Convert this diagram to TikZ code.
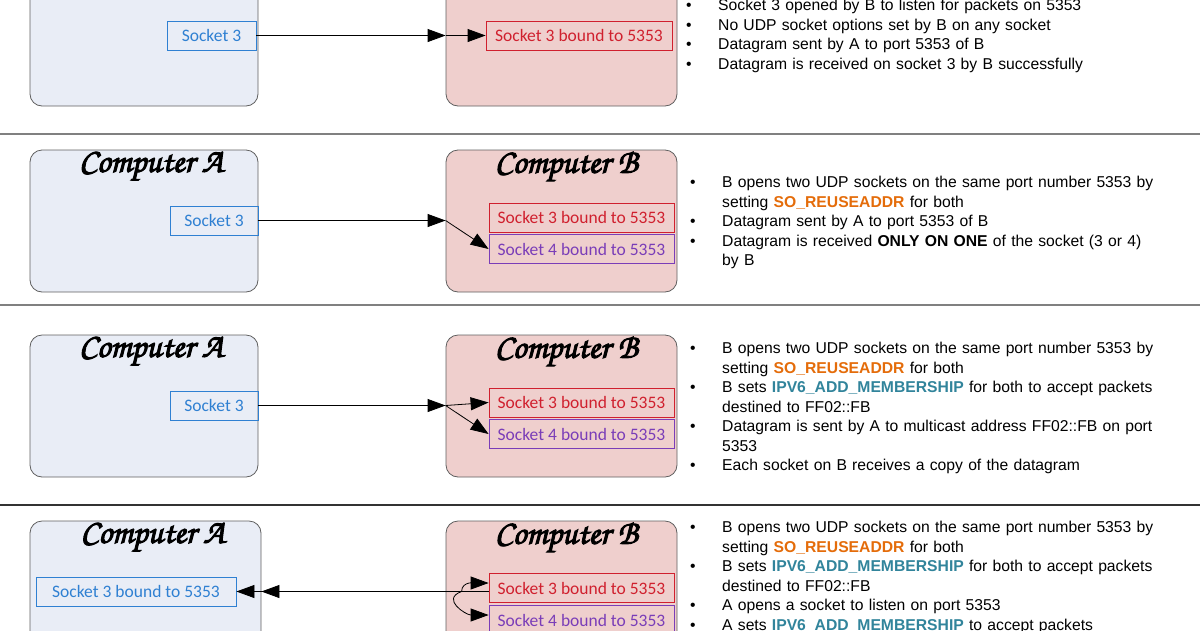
\documentclass[tikz,border=0pt]{standalone}
\usepackage{fontspec}
\setmainfont{Liberation Sans}
\newfontfamily\sockfont{Carlito}
\newfontfamily\handfont{TeX Gyre Chorus}[FakeBold=3]
\usetikzlibrary{positioning, arrows.meta, calc}
\definecolor{pcA}{HTML}{E9EDF6}
\definecolor{pcB}{HTML}{EFCFCD}
\definecolor{frame}{HTML}{5F5F5F}
\definecolor{sockblue}{HTML}{2F80D2}
\definecolor{sockred}{HTML}{D0202E}
\definecolor{sockpurple}{HTML}{7A3DB8}
\definecolor{optorange}{HTML}{E46C0A}
\definecolor{optteal}{HTML}{31849B}
\setlength{\parskip}{0pt}
\newcommand{\Opt}[2]{\textcolor{#1}{\textbf{#2}}}
\newcommand{\Item}[1]{\par\hangindent=32pt\hangafter=0\noindent\llap{\makebox[32pt][l]{\textbullet}}\strut#1\par}
\tikzset{
    computer/.style={draw=frame, line width=0.8pt, rounded corners=12pt, minimum height=142pt, inner sep=0pt},
    hostA/.style={computer, fill=pcA, minimum width=228pt},
    hostB/.style={computer, fill=pcB, minimum width=231pt},
    title/.style={inner sep=0pt, font=\handfont\fontsize{34}{36}\selectfont},
    sock/.style={draw, line width=0.8pt, inner sep=0pt, minimum height=29pt, font=\sockfont\fontsize{17.5}{20}\selectfont},
    sockA/.style={sock, draw=sockblue, text=sockblue},
    sockR/.style={sock, draw=sockred, text=sockred, minimum width=185pt},
    sockP/.style={sock, draw=sockpurple, text=sockpurple, minimum width=185pt},
    msg/.style={-{Triangle[length=18pt, width=13pt]}, line width=0.8pt},
    notes/.style={anchor=north west, inner sep=0pt, text width=500pt, align=left, font=\fontsize{15.7}{19.5}\selectfont},
    sep/.style={line width=2pt, draw=gray},
}
\begin{document}
\begin{tikzpicture}[x=1pt, y=-1pt]
    \clip (0,0) rectangle (1200,630);

    % separators
    \draw[sep] (0,134) -- (1200,134);
    \draw[sep] (0,305) -- (1200,305);
    \draw[line width=1.4pt, draw=black!80] (0,505) -- (1200,505);

    % unicast, one socket
    \node[hostA] (ca1) at (144,35) {};
    \node[hostB] (cb1) at (561.5,35) {};
    \node[sockA, minimum width=89pt] (sa1) at (211.5,35.5) {Socket 3};
    \node[sockR, minimum width=186pt] (sb1) at (579,35.5) {Socket 3 bound to 5353};
    \coordinate (j1) at (cb1.west |- sa1.east);
    \draw (sa1) edge[msg] (j1);
    \draw (j1) edge[msg] (sb1);
    \node[notes] (n1) at (686,-9) {%
      \Item{Socket 3 opened by B to listen for packets on 5353}
      \Item{No UDP socket options set by B on any socket}
      \Item{Datagram sent by A to port 5353 of B}
      \Item{Datagram is received on socket 3 by B successfully}};

    % unicast, SO_REUSEADDR
    \node[hostA] (ca2) at (144,221) {};
    \node[hostB] (cb2) at (561.5,221) {};
    \node[title, below=2pt of ca2.north, xshift=7pt] {Computer A};
    \node[title, below=2pt of cb2.north, xshift=5pt] {Computer B};
    \node[sockA, minimum width=88pt] (sa2) at (214,220.5) {Socket 3};
    \node[sockR] (sb2a) at (581.5,217.5) {Socket 3 bound to 5353};
    \node[sockP] (sb2b) at (581.5,249) {Socket 4 bound to 5353};
    \coordinate (j2) at (cb2.west |- sa2.east);
    \draw (sa2) edge[msg] (j2);
    \draw (j2) edge[msg] (sb2b.west);
    \node[notes] (n2) at (690,168) {%
      \Item{B opens two UDP sockets on the same port number 5353 by\newline
            setting \Opt{optorange}{SO\_REUSEADDR} for both}
      \Item{Datagram sent by A to port 5353 of B}
      \Item{Datagram is received \textbf{ONLY ON ONE} of the socket (3 or 4)\newline by B}};

    % multicast to B
    \node[hostA] (ca3) at (144,406) {};
    \node[hostB] (cb3) at (561.5,406) {};
    \node[title, below=2pt of ca3.north, xshift=7pt] {Computer A};
    \node[title, below=2pt of cb3.north, xshift=5pt] {Computer B};
    \node[sockA, minimum width=88pt] (sa3) at (214,405.5) {Socket 3};
    \node[sockR] (sb3a) at (581.5,402.5) {Socket 3 bound to 5353};
    \node[sockP] (sb3b) at (581.5,434) {Socket 4 bound to 5353};
    \coordinate (j3) at (cb3.west |- sa3.east);
    \draw (sa3) edge[msg] (j3);
    \draw (j3) edge[msg] (sb3a.west);
    \draw (j3) edge[msg] (sb3b.west);
    \node[notes] (n3) at (690,334) {%
      \Item{B opens two UDP sockets on the same port number 5353 by\newline
            setting \Opt{optorange}{SO\_REUSEADDR} for both}
      \Item{B sets \Opt{optteal}{IPV6\_ADD\_MEMBERSHIP} for both to accept packets\newline
            destined to FF02::FB}
      \Item{Datagram is sent by A to multicast address FF02::FB on port\newline 5353}
      \Item{Each socket on B receives a copy of the datagram}};

    % multicast back to A
    \node[hostA, minimum width=231pt] (ca4) at (145.5,592) {};
    \node[hostB] (cb4) at (561.5,592) {};
    \node[title, below=2pt of ca4.north, xshift=7pt] {Computer A};
    \node[title, below=2pt of cb4.north, xshift=5pt] {Computer B};
    \node[sockA, minimum width=200pt] (sa4) at (136,591.5) {Socket 3 bound to 5353};
    \node[sockR] (sb4a) at (581.5,588) {Socket 3 bound to 5353};
    \node[sockP] (sb4b) at (581.5,620) {Socket 4 bound to 5353};
    \coordinate (p4) at (sb4a.west |- sa4.east);
    \coordinate (e4) at (ca4.east |- sa4.east);
    \coordinate (k4) at ([xshift=-27pt]p4);
    \draw (p4) edge[msg] (sa4);
    \draw (p4) edge[msg] (e4);
    \draw (k4) edge[msg, out=90, in=180] ([yshift=5pt]sb4a.west);
    \draw (k4) edge[msg, out=200, in=180, looseness=1.6] ([yshift=5pt]sb4b.west);
    \node[notes] (n4) at (690,513) {%
      \Item{B opens two UDP sockets on the same port number 5353 by\newline
            setting \Opt{optorange}{SO\_REUSEADDR} for both}
      \Item{B sets \Opt{optteal}{IPV6\_ADD\_MEMBERSHIP} for both to accept packets\newline
            destined to FF02::FB}
      \Item{A opens a socket to listen on port 5353}
      \Item{A sets \Opt{optteal}{IPV6\_ADD\_MEMBERSHIP} to accept packets}};
\end{tikzpicture}
\end{document}
